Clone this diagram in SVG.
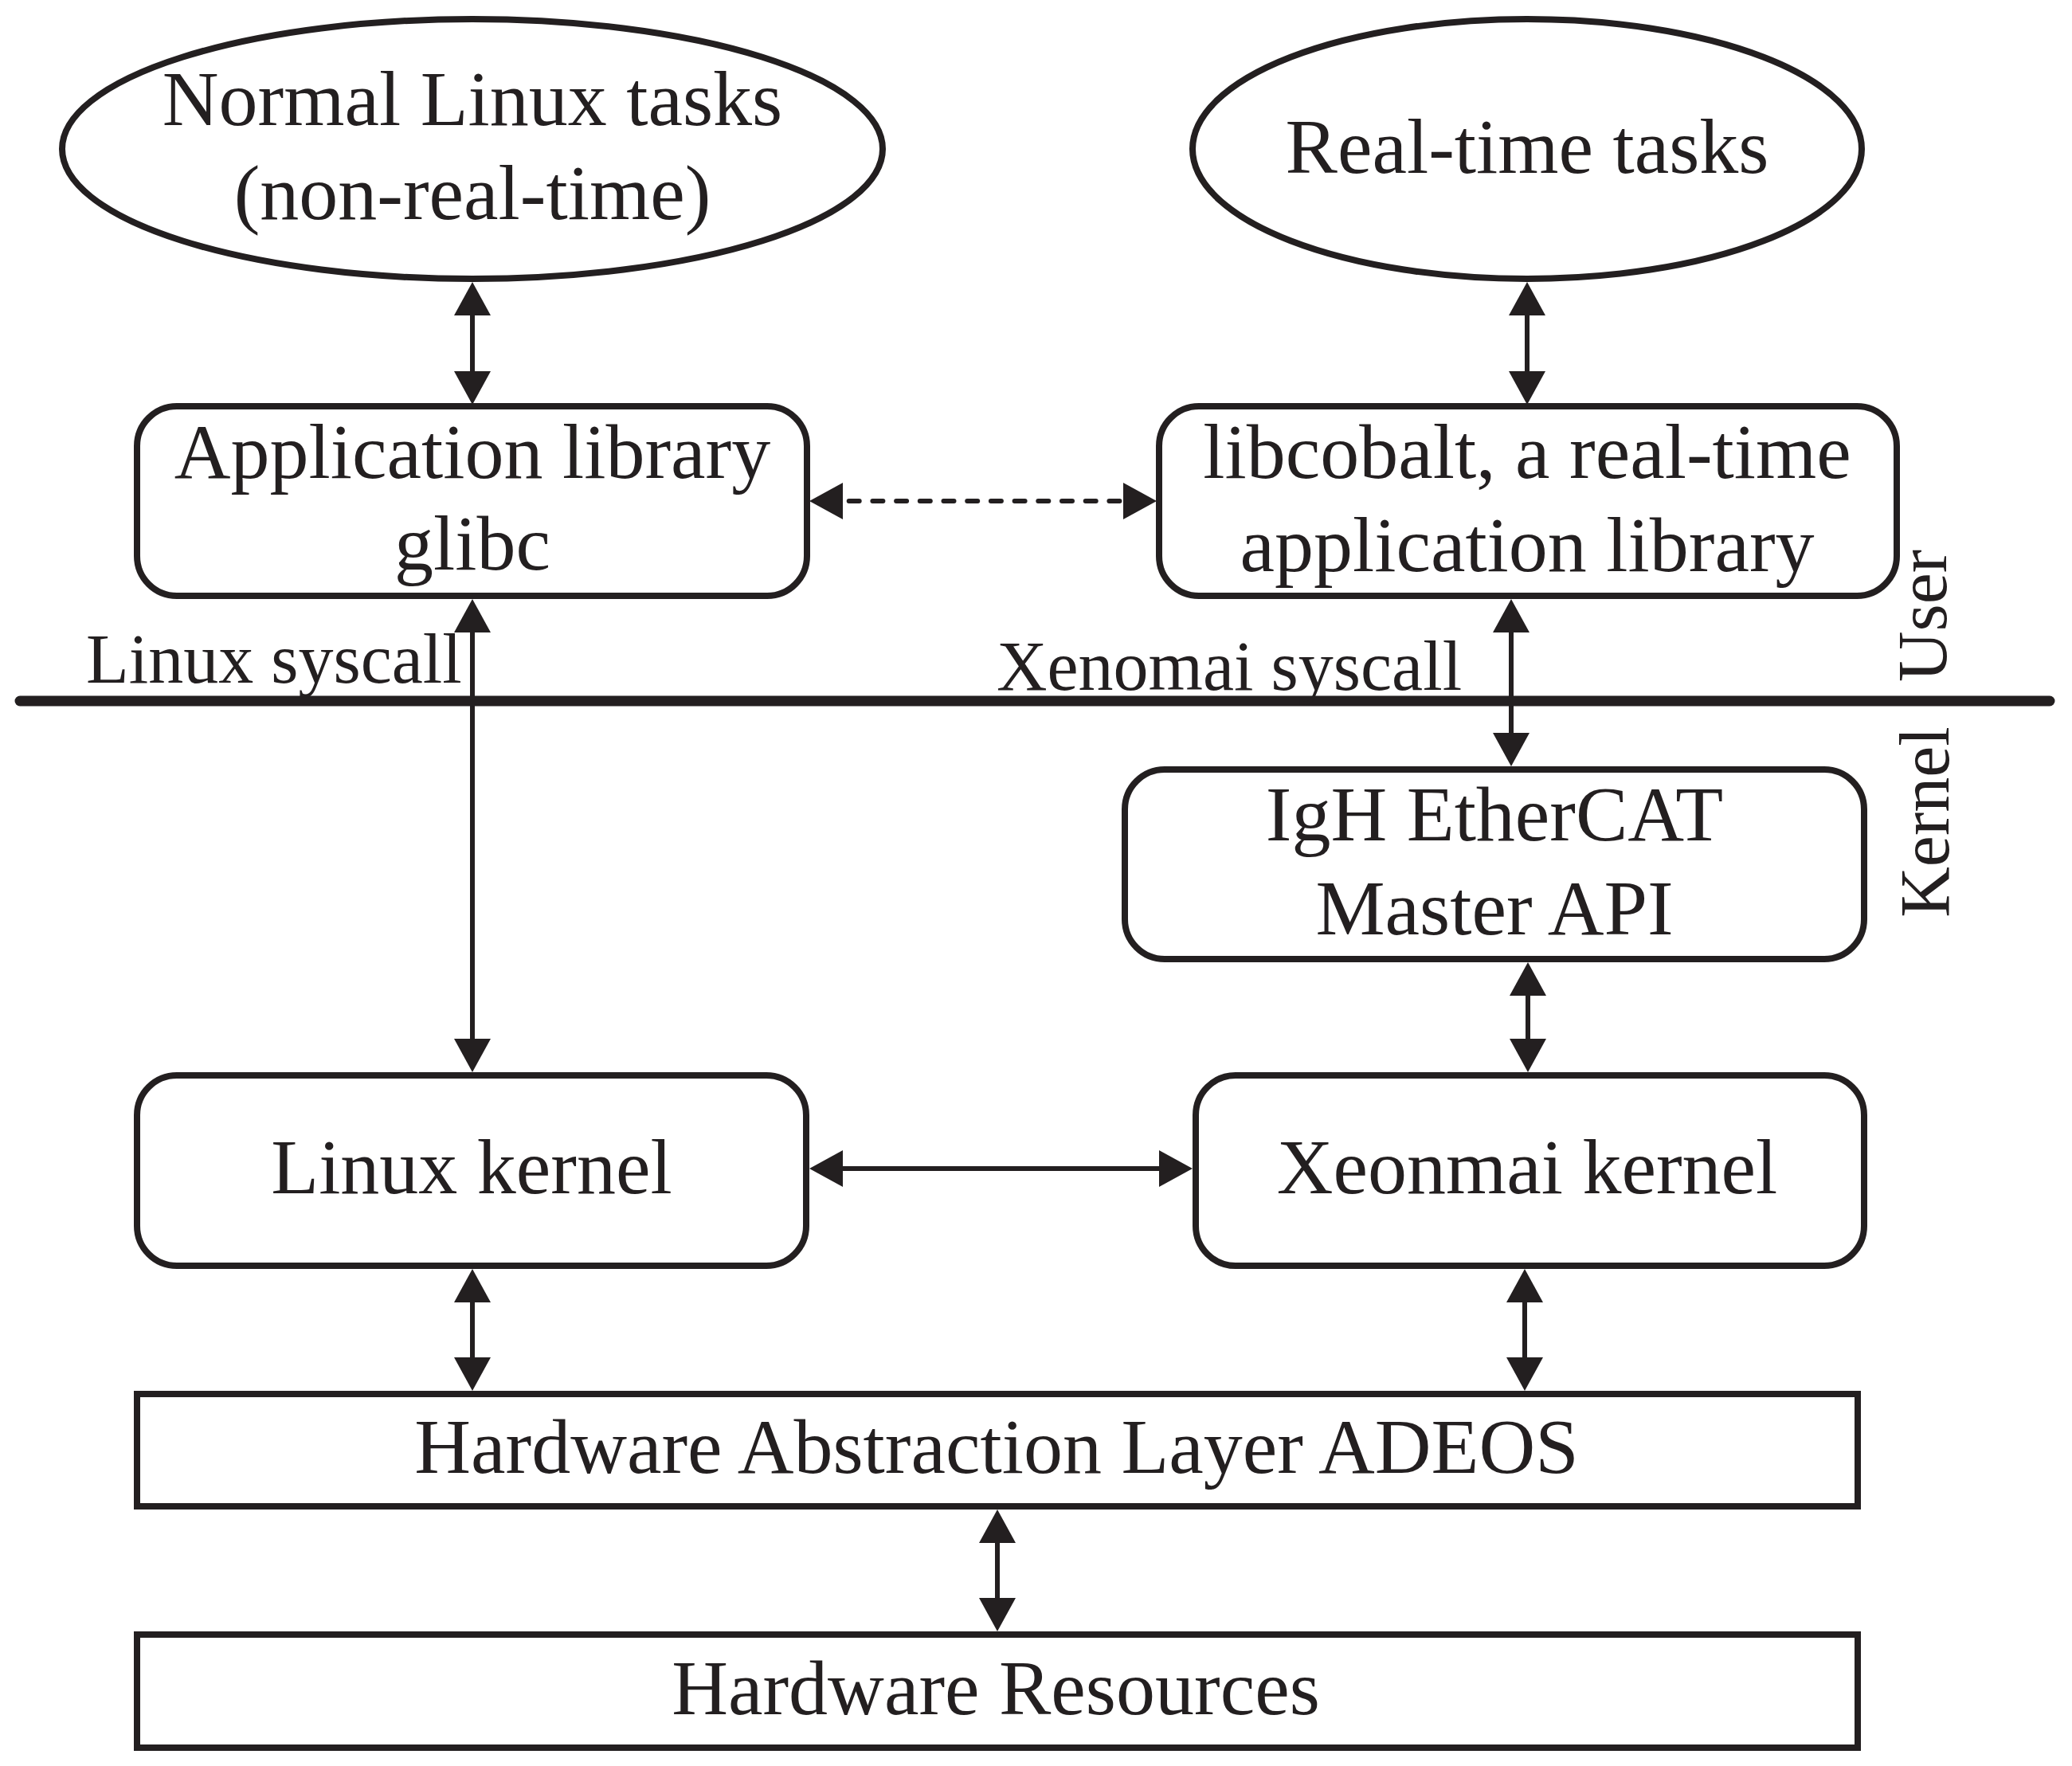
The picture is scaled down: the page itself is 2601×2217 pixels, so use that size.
<svg xmlns="http://www.w3.org/2000/svg" width="2601" height="2217" viewBox="0 0 2601 2217">
<style>
.shape{fill:#ffffff;stroke:#231f20;stroke-width:8}
.t{font-family:"Liberation Serif","Times New Roman",serif;font-size:98px;fill:#231f20;text-anchor:middle}
.s{font-family:"Liberation Serif","Times New Roman",serif;font-size:88px;fill:#231f20}
.c{stroke:#231f20;stroke-width:6;fill:none;marker-start:url(#ah);marker-end:url(#ah)}
.d{stroke-dasharray:13 16.7;stroke-linecap:round}
</style>
<defs>
<marker id="ah" markerUnits="userSpaceOnUse" markerWidth="42" markerHeight="46" refX="22" refY="23" orient="auto-start-reverse" viewBox="0 0 42 46">
<path d="M0,0 L42,23 L0,46 Z" fill="#231f20"/>
</marker>
</defs>
<rect width="2601" height="2217" fill="#ffffff"/>
<g id="connectors">
<line class="c" x1="593" y1="374" x2="593" y2="488"/>
<line class="c" x1="1917" y1="374" x2="1917" y2="488"/>
<line class="c d" x1="1036" y1="629" x2="1432" y2="629"/>
<line class="c" x1="593" y1="772" x2="593" y2="1326"/>
<line class="c" x1="1897" y1="772" x2="1897" y2="942"/>
<line class="c" x1="1918" y1="1228" x2="1918" y2="1326"/>
<line class="c" x1="1036" y1="1467" x2="1477" y2="1467"/>
<line class="c" x1="593" y1="1613" x2="593" y2="1726"/>
<line class="c" x1="1914" y1="1613" x2="1914" y2="1726"/>
<line class="c" x1="1252" y1="1915" x2="1252" y2="2028"/>
</g>
<g id="boundary">
<line x1="25" y1="880" x2="2573" y2="880" stroke="#231f20" stroke-width="13" stroke-linecap="round"/>
<text class="s" transform="translate(2443,773) rotate(-90)" text-anchor="middle">User</text>
<text class="s" transform="translate(2446,1032) rotate(-90)" text-anchor="middle">Kernel</text>
<text class="s" x="108" y="857">Linux syscall</text>
<text class="s" x="1251" y="866">Xenomai syscall</text>
</g>
<g id="normal-tasks">
<ellipse class="shape" cx="593" cy="187" rx="515" ry="163"/>
<text class="t" x="593" y="157">Normal Linux tasks</text>
<text class="t" x="593" y="275">(non-real-time)</text>
</g>
<g id="rt-tasks">
<ellipse class="shape" cx="1917" cy="187" rx="420" ry="163"/>
<text class="t" x="1917" y="217">Real-time tasks</text>
</g>
<g id="glibc">
<rect class="shape" x="172" y="510" width="841" height="238" rx="50" ry="50"/>
<text class="t" x="593" y="600">Application library</text>
<text class="t" x="593" y="715">glibc</text>
</g>
<g id="libcobalt">
<rect class="shape" x="1455" y="510" width="926" height="238" rx="50" ry="50"/>
<text class="t" x="1917" y="600">libcobalt, a real-time</text>
<text class="t" x="1917" y="717">application library</text>
</g>
<g id="igh">
<rect class="shape" x="1412" y="966" width="928" height="238" rx="50" ry="50"/>
<text class="t" x="1876" y="1055">IgH EtherCAT</text>
<text class="t" x="1876" y="1173">Master API</text>
</g>
<g id="linux-kernel">
<rect class="shape" x="172" y="1350" width="840" height="239" rx="50" ry="50"/>
<text class="t" x="592" y="1498">Linux kernel</text>
</g>
<g id="xenomai-kernel">
<rect class="shape" x="1501" y="1350" width="839" height="239" rx="50" ry="50"/>
<text class="t" x="1917" y="1498">Xeonmai kernel</text>
</g>
<g id="hal">
<rect class="shape" x="172" y="1750" width="2160" height="141"/>
<text class="t" x="1251" y="1849">Hardware Abstraction Layer ADEOS</text>
</g>
<g id="hw">
<rect class="shape" x="172" y="2052" width="2160" height="142"/>
<text class="t" x="1250" y="2152">Hardware Resources</text>
</g>
</svg>
